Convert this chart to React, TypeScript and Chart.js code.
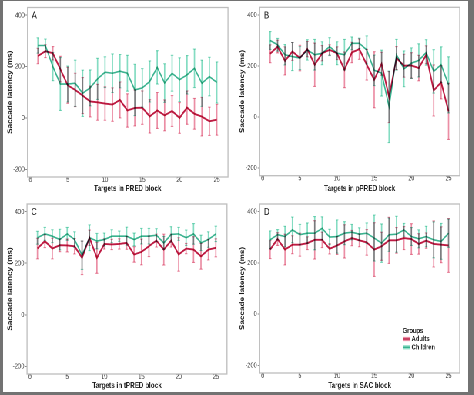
import React, { useEffect, useRef } from "react";
import { Chart, registerables } from "chart.js";

Chart.register(...registerables);

// ---------------- data ----------------
const targets = [1, 2, 3, 4, 5, 6, 7, 8, 9, 10, 11, 12, 13, 14, 15, 16, 17, 18, 19, 20, 21, 22, 23, 24, 25];
const xTickValues = [0, 5, 10, 15, 20, 25];
const yTickValues = [-200, 0, 200, 400];
const groupNames = ["Adults", "Children"];

const predAdults = [241, 260, 252, 190, 127, 109, 87, 64, 61, 56, 52, 70, 29, 39, 40, 6, 29, 10, 27, 0, 40, 16, 5, -13, -7];
const predAdultsErr = [30, 25, 26, 50, 70, 65, 70, 60, 70, 65, 65, 70, 65, 70, 65, 65, 70, 60, 60, 60, 65, 60, 75, 55, 60];
const predChildren = [282, 282, 200, 132, 132, 135, 96, 117, 152, 178, 174, 182, 174, 109, 117, 142, 197, 136, 174, 149, 168, 193, 135, 161, 138];
const predChildrenErr = [30, 25, 55, 103, 70, 90, 90, 70, 80, 60, 75, 65, 70, 100, 75, 80, 65, 75, 70, 85, 75, 75, 90, 75, 80];

const ppredAdults = [248, 276, 220, 257, 231, 266, 205, 250, 263, 250, 185, 253, 266, 205, 146, 209, 78, 231, 201, 202, 192, 244, 104, 136, 22];
const ppredAdultsErr = [35, 25, 55, 35, 50, 30, 85, 30, 20, 25, 70, 40, 40, 60, 110, 45, 100, 45, 45, 50, 50, 35, 100, 65, 110];
const ppredChildren = [300, 283, 244, 237, 231, 263, 244, 250, 276, 250, 244, 289, 289, 263, 183, 172, 40, 244, 189, 211, 222, 253, 179, 205, 126];
const ppredChildrenErr = [35, 25, 40, 55, 45, 40, 60, 45, 35, 45, 60, 25, 20, 55, 60, 90, 140, 60, 70, 60, 65, 50, 85, 70, 110];

const tpredAdults = [257, 286, 257, 270, 269, 266, 221, 299, 221, 275, 273, 275, 279, 234, 244, 266, 288, 253, 288, 234, 257, 253, 227, 253, 260];
const tpredAdultsErr = [40, 25, 40, 25, 25, 30, 65, 30, 60, 20, 20, 20, 25, 30, 50, 40, 25, 60, 25, 65, 20, 50, 50, 40, 35];
const tpredChildren = [299, 314, 305, 292, 314, 292, 231, 299, 286, 292, 305, 305, 305, 292, 305, 305, 309, 279, 312, 314, 299, 314, 279, 292, 314];
const tpredChildrenErr = [25, 25, 25, 40, 25, 30, 55, 50, 30, 25, 25, 20, 35, 25, 30, 30, 25, 25, 30, 25, 30, 40, 30, 30, 30];

const sacAdults = [252, 293, 252, 271, 271, 277, 290, 290, 255, 268, 284, 297, 288, 280, 252, 265, 288, 288, 297, 293, 274, 287, 274, 271, 268];
const sacAdultsErr = [35, 25, 60, 35, 45, 25, 75, 30, 20, 35, 65, 30, 25, 50, 105, 55, 90, 50, 45, 60, 40, 30, 90, 70, 105];
const sacChildren = [290, 310, 303, 329, 310, 316, 316, 335, 301, 303, 316, 320, 312, 316, 297, 277, 310, 312, 329, 303, 294, 303, 290, 284, 316];
const sacChildrenErr = [35, 20, 40, 50, 40, 40, 65, 45, 30, 65, 45, 30, 25, 40, 90, 75, 65, 70, 25, 35, 35, 40, 70, 70, 55];

// ---------------- styling ----------------
const FONT = "'Liberation Sans', Arial, sans-serif";
const SX = 0.77; // horizontal squeeze of the whole figure
const ADULT_LINE = "#bd1a42";
const ADULT_ERR = "#eb8ea5";
const CHILD_LINE = "#3ab28f";
const CHILD_ERR = "#84dcc2";

const errorBarPlugin = {
  id: "errorBars",
  beforeDatasetsDraw(chart: any) {
    const ctx = chart.ctx;
    const xs = chart.scales.x;
    const ys = chart.scales.y;
    ctx.save();
    ctx.globalCompositeOperation = "multiply";
    chart.data.datasets.forEach((ds: any) => {
      ctx.strokeStyle = ds.errColor;
      ds.data.forEach((p: any, i: number) => {
        const e = ds.errors[i];
        const x = xs.getPixelForValue(p.x);
        const y1 = ys.getPixelForValue(p.y - e);
        const y2 = ys.getPixelForValue(p.y + e);
        const cw = xs.getPixelForValue(p.x + 0.18) - x;
        ctx.lineWidth = 1.7;
        ctx.beginPath();
        ctx.moveTo(x, y1);
        ctx.lineTo(x, y2);
        ctx.stroke();
        ctx.lineWidth = 1.1;
        ctx.beginPath();
        ctx.moveTo(x - cw, y1);
        ctx.lineTo(x + cw, y1);
        ctx.moveTo(x - cw, y2);
        ctx.lineTo(x + cw, y2);
        ctx.stroke();
      });
    });
    ctx.restore();
    ctx.save();
    ctx.globalCompositeOperation = "multiply";
  },
  afterDatasetsDraw(chart: any) {
    chart.ctx.restore();
  },
  afterDraw(chart: any, _args: any, opts: any) {
    const ctx = chart.ctx;
    const a = chart.chartArea;
    ctx.save();
    ctx.strokeStyle = "#bdbdbd";
    ctx.lineWidth = 1.3;
    ctx.strokeRect(a.left, a.top, a.right - a.left, a.bottom - a.top);
    ctx.fillStyle = "#1a1a1a";
    ctx.font = `10px ${FONT}`;
    ctx.textBaseline = "alphabetic";
    ctx.textAlign = "left";
    ctx.fillText(opts.label, a.left + 5.5, a.top + 11);
    if (opts.legend) {
      const lx = 215;
      ctx.font = `bold 7.5px ${FONT}`;
      ctx.textBaseline = "middle";
      ctx.fillText("Groups", lx, 135);
      const rows = [
        { name: groupNames[0], y: 143, line: ADULT_LINE, err: ADULT_ERR },
        { name: groupNames[1], y: 151.3, line: CHILD_LINE, err: CHILD_ERR },
      ];
      rows.forEach((r) => {
        ctx.strokeStyle = r.err;
        ctx.lineWidth = 1.2;
        ctx.beginPath();
        ctx.moveTo(lx, r.y - 1.5);
        ctx.lineTo(lx + 10, r.y - 1.5);
        ctx.moveTo(lx, r.y + 1.5);
        ctx.lineTo(lx + 10, r.y + 1.5);
        ctx.stroke();
        ctx.strokeStyle = r.line;
        ctx.lineWidth = 1.6;
        ctx.beginPath();
        ctx.moveTo(lx, r.y);
        ctx.lineTo(lx + 10, r.y);
        ctx.stroke();
        ctx.fillStyle = "#1a1a1a";
        ctx.fillText(r.name, lx + 11.5, r.y);
      });
    }
    ctx.restore();
  },
};

type PanelProps = {
  left: number;
  top: number;
  width: number;
  height: number;
  plotLeft: number;
  padTop: number;
  padRight: number;
  xAxisH: number;
  yTitleCenter: number;
  xTitlePad: number;
  label: string;
  xTitle: string;
  adults: number[];
  adultsErr: number[];
  children: number[];
  childrenErr: number[];
  legend?: boolean;
};

function Panel(p: PanelProps) {
  const ref = useRef<HTMLCanvasElement | null>(null);
  useEffect(() => {
    if (!ref.current) return;
    const toPts = (vals: number[]) => vals.map((v, i) => ({ x: targets[i], y: v }));
    const chart = new Chart(ref.current, {
      type: "line",
      data: {
        datasets: [
          {
            label: groupNames[0],
            data: toPts(p.adults),
            errors: p.adultsErr,
            errColor: ADULT_ERR,
            borderColor: ADULT_LINE,
            borderWidth: 1.9,
            pointRadius: 0,
            tension: 0,
            fill: false,
          } as any,
          {
            label: groupNames[1],
            data: toPts(p.children),
            errors: p.childrenErr,
            errColor: CHILD_ERR,
            borderColor: CHILD_LINE,
            borderWidth: 1.6,
            pointRadius: 0,
            tension: 0,
            fill: false,
          } as any,
        ],
      },
      options: {
        animation: false,
        responsive: false,
        maintainAspectRatio: false,
        devicePixelRatio: 2,
        events: [],
        layout: { padding: { top: p.padTop, right: p.padRight, left: 0, bottom: 0 } },
        plugins: {
          legend: { display: false },
          tooltip: { enabled: false },
          errorBars: { label: p.label, legend: !!p.legend },
        } as any,
        scales: {
          x: {
            type: "linear",
            min: -0.4,
            max: 26.5,
            afterBuildTicks: (s: any) => {
              s.ticks = xTickValues.map((v) => ({ value: v }));
            },
            afterFit: (s: any) => {
              s.height = p.xAxisH;
            },
            grid: { drawOnChartArea: false, drawTicks: true, tickLength: 2.2, tickColor: "#8a8a8a", lineWidth: 1 },
            border: { display: false },
            ticks: {
              font: { family: FONT, size: 7.3, lineHeight: 1 },
              color: "#3a3a3a",
              padding: -2.9,
              maxRotation: 0,
              autoSkip: false,
            },
            title: {
              display: true,
              text: p.xTitle,
              font: { family: FONT, size: 8.2, weight: "bold", lineHeight: 1 },
              color: "#1a1a1a",
              padding: { top: 0, bottom: p.xTitlePad },
            },
          },
          y: {
            type: "linear",
            min: -230,
            max: 430,
            afterBuildTicks: (s: any) => {
              s.ticks = yTickValues.map((v) => ({ value: v }));
            },
            afterFit: (s: any) => {
              s.width = p.plotLeft;
            },
            grid: { drawOnChartArea: false, drawTicks: true, tickLength: 2.6, tickColor: "#8a8a8a", lineWidth: 1 },
            border: { display: false },
            ticks: {
              font: { family: FONT, size: 7.5, lineHeight: 1 },
              color: "#3a3a3a",
              padding: 1,
              autoSkip: false,
            },
            title: {
              display: true,
              text: "Saccade latency (ms)",
              font: { family: FONT, size: 8.2, weight: "bold", lineHeight: 1 },
              color: "#1a1a1a",
              padding: { top: p.yTitleCenter - 4.1, bottom: 0 },
            },
          },
        },
      } as any,
      plugins: [errorBarPlugin as any],
    });
    return () => chart.destroy();
  }, []);
  return (
    <canvas
      ref={ref}
      width={p.width}
      height={p.height}
      style={{ position: "absolute", left: p.left, top: p.top }}
    />
  );
}

export default function App() {
  return (
    <div
      style={{
        position: "absolute",
        left: 0,
        top: 0,
        width: 474,
        height: 395,
        overflow: "hidden",
        background: "#ffffff",
      }}
    >
      <div
        style={{
          position: "absolute",
          left: 0,
          top: 0,
          width: 616,
          height: 395,
          transform: `scaleX(${SX})`,
          transformOrigin: "left top",
        }}
      >
        <Panel left={0} top={0} width={308} height={196} plotLeft={35.7} padTop={7.5} padRight={11.9} xAxisH={19}
          yTitleCenter={13} xTitlePad={3.0} label="A" xTitle="Targets in PRED block"
          adults={predAdults} adultsErr={predAdultsErr} children={predChildren} childrenErr={predChildrenErr} />
        <Panel left={308} top={0} width={308} height={196} plotLeft={29.3} padTop={7.3} padRight={19} xAxisH={20.3}
          yTitleCenter={6.6} xTitlePad={3.0} label="B" xTitle="Targets in pPRED block"
          adults={ppredAdults} adultsErr={ppredAdultsErr} children={ppredChildren} childrenErr={ppredChildrenErr} />
        <Panel left={0} top={196} width={308} height={199} plotLeft={35.1} padTop={8} padRight={13.2} xAxisH={21}
          yTitleCenter={13} xTitlePad={5.0} label="C" xTitle="Targets in tPRED block"
          adults={tpredAdults} adultsErr={tpredAdultsErr} children={tpredChildren} childrenErr={tpredChildrenErr} />
        <Panel left={308} top={196} width={308} height={199} plotLeft={29.3} padTop={8} padRight={19} xAxisH={22}
          yTitleCenter={6.6} xTitlePad={5.0} label="D" xTitle="Targets in SAC block" legend
          adults={sacAdults} adultsErr={sacAdultsErr} children={sacChildren} childrenErr={sacChildrenErr} />
      </div>
      <div
        style={{
          position: "absolute",
          left: 0,
          top: 0,
          width: 474,
          height: 395,
          boxSizing: "border-box",
          borderStyle: "solid",
          borderColor: "#727272",
          borderWidth: "1px 6px 3px 3px",
          pointerEvents: "none",
        }}
      />
    </div>
  );
}
